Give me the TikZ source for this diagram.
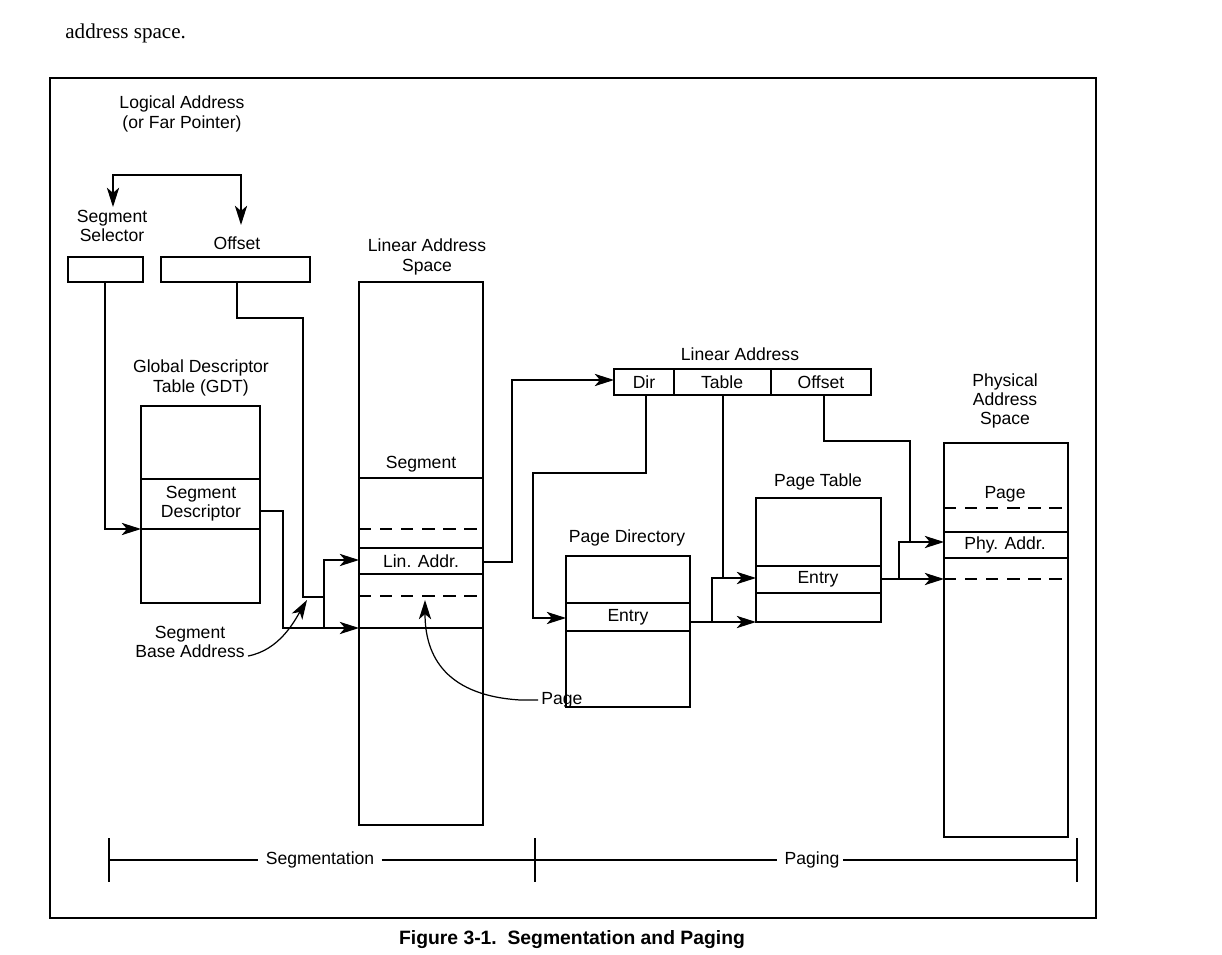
\documentclass[tikz,border=0pt]{standalone}
\usepackage{fontspec}
\setmainfont{Liberation Sans}
\newfontfamily\serifff{Liberation Serif}
\usetikzlibrary{arrows.meta}
\begin{document}
\begin{tikzpicture}[x=0.02cm,y=-0.02cm,
  every node/.style={font=\fontsize{10}{11}\selectfont,align=center,inner sep=0pt},
  box/.style={draw,line width=0.7pt},
  ln/.style={line width=0.7pt},
  dl/.style={line width=1pt,dash pattern=on 7pt off 5pt},
  arr/.style={ln,-{Stealth[length=11pt,width=7pt,inset=3pt]}}]
\useasboundingbox (0,0) rectangle (1222,955);
\node[anchor=west,font=\serifff\fontsize{12}{14}\selectfont] at (65,33) {address space.};
\draw[ln] (50,78) rectangle (1096,918);
\node[font=\bfseries\fontsize{11}{13}\selectfont] (cap) at (572,940) {Figure 3-1.\ \ Segmentation and Paging};

% logical address
\node (logical) at (182,114) {Logical Address\\(or Far Pointer)};
\draw[arr] (113,175) -- (241,175) -- (241,225);
\draw[arr] (241,175) -- (113,175) -- (113,207);
\node (sel) at (112,226) {Segment\\Selector};
\node (off) at (237,243) {Offset};
\draw[box] (68,257) rectangle (143,282);
\draw[box] (161,257) rectangle (310,282);

% GDT
\node (gdt) at (201,378) {Global Descriptor\\Table (GDT)};
\draw[box] (141,406) rectangle (260,603);
\draw[ln] (141,479) -- (260,479) (141,529) -- (260,529);
\node (desc) at (201,504) {Segment\\Descriptor};
\draw[arr] (105,282) -- (105,529) -- (141,529);

% linear address space
\node (las) at (427,257) {Linear Address\\Space};
\draw[box] (359,282) rectangle (483,825);
\draw[ln] (359,478) -- (483,478) (359,548) -- (483,548) (359,574) -- (483,574) (359,628) -- (483,628);
\draw[dl] (359,529) -- (483,529) (359,596) -- (483,596);
\node (seg) at (421,464) {Segment};
\node (lin) at (421,561) {Lin. Addr.};
\draw[ln] (237,282) -- (237,318) -- (303,318) -- (303,597) -- (324,597);
\draw[arr] (324,628) -- (324,560) -- (359,560);
\draw[arr] (260,511) -- (283,511) -- (283,628) -- (359,628);
\node (base) at (190,642) {Segment\\Base Address};
\draw[arr] (248,656) .. controls (280,650) and (295,620) .. (307,600);
\node[anchor=west] (pg) at (541,700) {Page};
\draw[arr] (538,700) -- (520,700) .. controls (440,695) and (425,650) .. (425,600);

% linear address
\node (la) at (740,354) {Linear Address};
\draw[box] (614,369) rectangle (871,395);
\draw[ln] (674,369) -- (674,395) (771,369) -- (771,395);
\node at (644,382) {Dir};
\node at (722,382) {Table};
\node at (821,382) {Offset};
\draw[arr] (483,562) -- (512,562) -- (512,380) -- (614,380);

% page directory
\node (pd) at (627,538) {Page Directory};
\draw[box] (566,556) rectangle (690,707);
\draw[ln] (566,603) -- (690,603) (566,631) -- (690,631);
\node at (628,617) {Entry};
\draw[arr] (646,395) -- (646,473) -- (533,473) -- (533,618) -- (566,618);

% page table
\node (pt) at (818,482) {Page Table};
\draw[box] (756,498) rectangle (881,622);
\draw[ln] (756,566) -- (881,566) (756,593) -- (881,593);
\node at (818,579) {Entry};
\draw[arr] (690,622) -- (756,622);
\draw[arr] (712,622) -- (712,578) -- (756,578);
\draw[ln] (723,395) -- (723,578);

% physical address space
\node (pas) at (1005,401) {Physical\\Address\\Space};
\draw[box] (944,443) rectangle (1068,837);
\draw[ln] (944,532) -- (1068,532) (944,558) -- (1068,558);
\draw[dl] (944,508) -- (1068,508) (944,579) -- (1068,579);
\node at (1005,494) {Page};
\node at (1005,545) {Phy. Addr.};
\draw[arr] (881,579) -- (944,579);
\draw[arr] (899,579) -- (899,542) -- (944,542);
\draw[ln] (824,395) -- (824,441) -- (910,441) -- (910,542);

% bottom scale
\draw[ln] (109,838) -- (109,882) (535,838) -- (535,882) (1077,838) -- (1077,882);
\node (segm) at (320,860) {Segmentation};
\node (pag) at (812,860) {Paging};
\draw[ln] (109,860) -- ([xshift=-4pt]segm.west);
\draw[ln] ([xshift=4pt]segm.east) -- (535,860) -- ([xshift=-4pt]pag.west);
\draw[ln] ([xshift=2pt]pag.east) -- (1077,860);
\end{tikzpicture}
\end{document}
